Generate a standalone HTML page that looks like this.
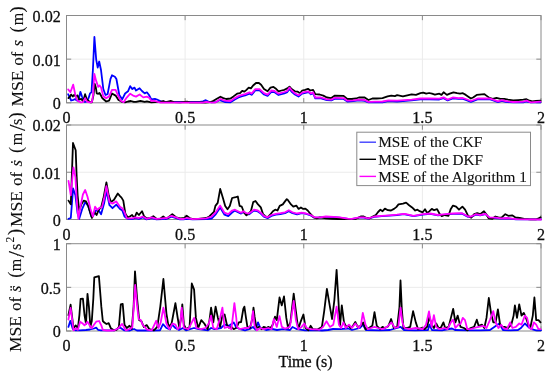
<!DOCTYPE html>
<html><head><meta charset="utf-8"><style>html,body{margin:0;padding:0;background:#fff;width:550px;height:376px;overflow:hidden}svg{display:block}</style></head><body><div id="w">
<svg width="550" height="376" viewBox="0 0 550 376" font-family="Liberation Serif, serif" font-size="17.6" fill="#0d0d0d" stroke="#0d0d0d" stroke-width="0.3">
<rect width="550" height="376" fill="#fff" stroke="none"/>
<line x1="185.12" y1="15.5" x2="185.12" y2="102.8" stroke="#ebebeb" stroke-width="1"/>
<line x1="303.75" y1="15.5" x2="303.75" y2="102.8" stroke="#ebebeb" stroke-width="1"/>
<line x1="422.38" y1="15.5" x2="422.38" y2="102.8" stroke="#ebebeb" stroke-width="1"/>
<line x1="66.5" y1="59.15" x2="541.0" y2="59.15" stroke="#ebebeb" stroke-width="1"/>
<line x1="185.12" y1="125.0" x2="185.12" y2="219.5" stroke="#ebebeb" stroke-width="1"/>
<line x1="303.75" y1="125.0" x2="303.75" y2="219.5" stroke="#ebebeb" stroke-width="1"/>
<line x1="422.38" y1="125.0" x2="422.38" y2="219.5" stroke="#ebebeb" stroke-width="1"/>
<line x1="66.5" y1="172.25" x2="541.0" y2="172.25" stroke="#ebebeb" stroke-width="1"/>
<line x1="185.12" y1="243.7" x2="185.12" y2="331.0" stroke="#ebebeb" stroke-width="1"/>
<line x1="303.75" y1="243.7" x2="303.75" y2="331.0" stroke="#ebebeb" stroke-width="1"/>
<line x1="422.38" y1="243.7" x2="422.38" y2="331.0" stroke="#ebebeb" stroke-width="1"/>
<line x1="66.5" y1="287.35" x2="541.0" y2="287.35" stroke="#ebebeb" stroke-width="1"/>
<rect x="66.5" y="15.5" width="474.50" height="87.30" fill="none" stroke="#8a8a8a" stroke-width="1"/>
<line x1="66.50" y1="102.8" x2="66.50" y2="98.1" stroke="#8a8a8a" stroke-width="1"/>
<line x1="66.50" y1="15.5" x2="66.50" y2="20.2" stroke="#8a8a8a" stroke-width="1"/>
<line x1="185.12" y1="102.8" x2="185.12" y2="98.1" stroke="#8a8a8a" stroke-width="1"/>
<line x1="185.12" y1="15.5" x2="185.12" y2="20.2" stroke="#8a8a8a" stroke-width="1"/>
<line x1="303.75" y1="102.8" x2="303.75" y2="98.1" stroke="#8a8a8a" stroke-width="1"/>
<line x1="303.75" y1="15.5" x2="303.75" y2="20.2" stroke="#8a8a8a" stroke-width="1"/>
<line x1="422.38" y1="102.8" x2="422.38" y2="98.1" stroke="#8a8a8a" stroke-width="1"/>
<line x1="422.38" y1="15.5" x2="422.38" y2="20.2" stroke="#8a8a8a" stroke-width="1"/>
<line x1="541.00" y1="102.8" x2="541.00" y2="98.1" stroke="#8a8a8a" stroke-width="1"/>
<line x1="541.00" y1="15.5" x2="541.00" y2="20.2" stroke="#8a8a8a" stroke-width="1"/>
<line x1="66.5" y1="15.50" x2="71.2" y2="15.50" stroke="#8a8a8a" stroke-width="1"/>
<line x1="541.0" y1="15.50" x2="536.3" y2="15.50" stroke="#8a8a8a" stroke-width="1"/>
<line x1="66.5" y1="59.15" x2="71.2" y2="59.15" stroke="#8a8a8a" stroke-width="1"/>
<line x1="541.0" y1="59.15" x2="536.3" y2="59.15" stroke="#8a8a8a" stroke-width="1"/>
<line x1="66.5" y1="102.80" x2="71.2" y2="102.80" stroke="#8a8a8a" stroke-width="1"/>
<line x1="541.0" y1="102.80" x2="536.3" y2="102.80" stroke="#8a8a8a" stroke-width="1"/>
<text transform="translate(66.50,122.80) scale(0.915,1)" text-anchor="middle">0</text>
<text transform="translate(185.12,122.80) scale(0.915,1)" text-anchor="middle">0.5</text>
<text transform="translate(303.75,122.80) scale(0.915,1)" text-anchor="middle">1</text>
<text transform="translate(422.38,122.80) scale(0.915,1)" text-anchor="middle">1.5</text>
<text transform="translate(541.00,122.80) scale(0.915,1)" text-anchor="middle">2</text>
<text transform="translate(60.8,109.20) scale(0.915,1)" text-anchor="end">0</text>
<text transform="translate(60.8,65.55) scale(0.915,1)" text-anchor="end">0.01</text>
<text transform="translate(60.8,21.90) scale(0.915,1)" text-anchor="end">0.02</text>
<rect x="66.5" y="125.0" width="474.50" height="94.50" fill="none" stroke="#8a8a8a" stroke-width="1"/>
<line x1="66.50" y1="219.5" x2="66.50" y2="214.8" stroke="#8a8a8a" stroke-width="1"/>
<line x1="66.50" y1="125.0" x2="66.50" y2="129.7" stroke="#8a8a8a" stroke-width="1"/>
<line x1="185.12" y1="219.5" x2="185.12" y2="214.8" stroke="#8a8a8a" stroke-width="1"/>
<line x1="185.12" y1="125.0" x2="185.12" y2="129.7" stroke="#8a8a8a" stroke-width="1"/>
<line x1="303.75" y1="219.5" x2="303.75" y2="214.8" stroke="#8a8a8a" stroke-width="1"/>
<line x1="303.75" y1="125.0" x2="303.75" y2="129.7" stroke="#8a8a8a" stroke-width="1"/>
<line x1="422.38" y1="219.5" x2="422.38" y2="214.8" stroke="#8a8a8a" stroke-width="1"/>
<line x1="422.38" y1="125.0" x2="422.38" y2="129.7" stroke="#8a8a8a" stroke-width="1"/>
<line x1="541.00" y1="219.5" x2="541.00" y2="214.8" stroke="#8a8a8a" stroke-width="1"/>
<line x1="541.00" y1="125.0" x2="541.00" y2="129.7" stroke="#8a8a8a" stroke-width="1"/>
<line x1="66.5" y1="125.00" x2="71.2" y2="125.00" stroke="#8a8a8a" stroke-width="1"/>
<line x1="541.0" y1="125.00" x2="536.3" y2="125.00" stroke="#8a8a8a" stroke-width="1"/>
<line x1="66.5" y1="172.25" x2="71.2" y2="172.25" stroke="#8a8a8a" stroke-width="1"/>
<line x1="541.0" y1="172.25" x2="536.3" y2="172.25" stroke="#8a8a8a" stroke-width="1"/>
<line x1="66.5" y1="219.50" x2="71.2" y2="219.50" stroke="#8a8a8a" stroke-width="1"/>
<line x1="541.0" y1="219.50" x2="536.3" y2="219.50" stroke="#8a8a8a" stroke-width="1"/>
<text transform="translate(66.50,239.50) scale(0.915,1)" text-anchor="middle">0</text>
<text transform="translate(185.12,239.50) scale(0.915,1)" text-anchor="middle">0.5</text>
<text transform="translate(303.75,239.50) scale(0.915,1)" text-anchor="middle">1</text>
<text transform="translate(422.38,239.50) scale(0.915,1)" text-anchor="middle">1.5</text>
<text transform="translate(541.00,239.50) scale(0.915,1)" text-anchor="middle">2</text>
<text transform="translate(60.8,225.90) scale(0.915,1)" text-anchor="end">0</text>
<text transform="translate(60.8,178.65) scale(0.915,1)" text-anchor="end">0.01</text>
<text transform="translate(60.8,131.40) scale(0.915,1)" text-anchor="end">0.02</text>
<rect x="66.5" y="243.7" width="474.50" height="87.30" fill="none" stroke="#8a8a8a" stroke-width="1"/>
<line x1="66.50" y1="331.0" x2="66.50" y2="326.3" stroke="#8a8a8a" stroke-width="1"/>
<line x1="66.50" y1="243.7" x2="66.50" y2="248.39999999999998" stroke="#8a8a8a" stroke-width="1"/>
<line x1="185.12" y1="331.0" x2="185.12" y2="326.3" stroke="#8a8a8a" stroke-width="1"/>
<line x1="185.12" y1="243.7" x2="185.12" y2="248.39999999999998" stroke="#8a8a8a" stroke-width="1"/>
<line x1="303.75" y1="331.0" x2="303.75" y2="326.3" stroke="#8a8a8a" stroke-width="1"/>
<line x1="303.75" y1="243.7" x2="303.75" y2="248.39999999999998" stroke="#8a8a8a" stroke-width="1"/>
<line x1="422.38" y1="331.0" x2="422.38" y2="326.3" stroke="#8a8a8a" stroke-width="1"/>
<line x1="422.38" y1="243.7" x2="422.38" y2="248.39999999999998" stroke="#8a8a8a" stroke-width="1"/>
<line x1="541.00" y1="331.0" x2="541.00" y2="326.3" stroke="#8a8a8a" stroke-width="1"/>
<line x1="541.00" y1="243.7" x2="541.00" y2="248.39999999999998" stroke="#8a8a8a" stroke-width="1"/>
<line x1="66.5" y1="243.70" x2="71.2" y2="243.70" stroke="#8a8a8a" stroke-width="1"/>
<line x1="541.0" y1="243.70" x2="536.3" y2="243.70" stroke="#8a8a8a" stroke-width="1"/>
<line x1="66.5" y1="287.35" x2="71.2" y2="287.35" stroke="#8a8a8a" stroke-width="1"/>
<line x1="541.0" y1="287.35" x2="536.3" y2="287.35" stroke="#8a8a8a" stroke-width="1"/>
<line x1="66.5" y1="331.00" x2="71.2" y2="331.00" stroke="#8a8a8a" stroke-width="1"/>
<line x1="541.0" y1="331.00" x2="536.3" y2="331.00" stroke="#8a8a8a" stroke-width="1"/>
<text transform="translate(66.50,351.00) scale(0.915,1)" text-anchor="middle">0</text>
<text transform="translate(185.12,351.00) scale(0.915,1)" text-anchor="middle">0.5</text>
<text transform="translate(303.75,351.00) scale(0.915,1)" text-anchor="middle">1</text>
<text transform="translate(422.38,351.00) scale(0.915,1)" text-anchor="middle">1.5</text>
<text transform="translate(541.00,351.00) scale(0.915,1)" text-anchor="middle">2</text>
<text transform="translate(60.8,337.40) scale(0.915,1)" text-anchor="end">0</text>
<text transform="translate(60.8,293.75) scale(0.915,1)" text-anchor="end">0.5</text>
<text transform="translate(60.8,250.10) scale(0.915,1)" text-anchor="end">1</text>
<polyline points="68.1,94.2 69.5,97.0 71.2,100.5 73.5,99.8 75.2,99.0 76.8,100.5 78.4,101.0 80.4,91.8 82.0,96.5 83.6,100.5 85.1,102.0 87.1,101.3 88.7,97.7 90.0,93.4 91.5,92.2 92.9,70.0 94.4,37.0 96.2,59.7 97.7,67.5 99.2,61.5 101.0,70.0 103.3,89.0 105.5,95.0 107.6,94.2 110.5,78.9 112.0,75.3 114.9,76.7 116.4,79.0 119.3,95.0 122.2,99.3 125.1,93.5 128.0,91.3 130.2,86.2 132.4,89.1 134.5,87.6 136.0,90.5 139.6,88.3 142.0,91.0 144.7,93.4 146.9,92.3 149.0,95.0 151.3,99.5 154.9,98.8 157.0,99.5 160.7,101.4 165.0,101.9 200.0,101.9 203.0,101.3 205.8,100.2 208.4,101.5 211.3,102.3 215.6,102.2 220.0,100.0 220.4,100.3 224.7,102.0 230.5,102.3 234.9,99.4 238.5,97.4 242.2,96.2 245.1,95.5 249.5,93.6 251.6,94.8 255.3,90.4 259.6,90.4 264.0,94.5 267.6,95.9 271.3,91.8 274.2,92.1 278.5,95.0 284.4,93.3 287.3,92.1 289.5,88.9 292.0,92.1 294.9,94.5 298.5,96.5 302.2,93.5 306.5,92.5 308.7,92.1 310.9,94.3 313.1,93.1 315.3,98.3 321.1,98.3 326.9,100.1 331.3,100.4 334.9,98.6 343.6,98.9 347.3,101.5 353.1,101.2 358.9,100.4 364.7,100.8 368.4,102.3 375.0,102.3 382.5,102.3 388.4,101.2 397.1,101.5 411.6,100.4 420.4,99.3 429.1,99.3 439.3,99.5 443.6,98.2 447.6,100.4 452.7,98.3 458.5,98.9 462.2,98.6 465.8,99.8 470.9,101.8 477.5,99.3 486.2,99.3 489.5,99.2 494.6,100.9 498.0,102.2 501.8,100.9 505.6,101.8 508.0,102.2 513.1,102.3 523.3,102.3 526.5,101.5 530.9,102.3 540.5,102.3" fill="none" stroke="#0000ff" stroke-width="1.8" stroke-linejoin="round" stroke-linecap="round"/>
<polyline points="68.4,98.1 70.0,96.5 71.2,94.6 72.8,96.5 74.4,94.6 75.6,96.5 77.6,95.4 78.8,99.0 80.0,99.3 81.2,98.9 83.2,101.3 85.1,94.2 86.7,99.0 87.9,100.5 90.3,102.3 91.9,102.3 93.5,95.0 94.7,83.8 95.9,87.8 96.7,93.4 98.3,93.8 99.5,93.0 100.7,95.0 102.3,98.1 103.3,99.0 106.2,101.5 109.1,100.7 112.0,93.5 115.6,95.6 118.5,100.0 122.2,101.9 125.1,102.3 128.0,101.5 130.9,101.0 133.8,101.8 136.0,101.9 140.4,100.9 144.7,101.8 146.9,101.3 151.3,102.3 155.0,102.2 160.0,101.8 163.3,101.0 166.0,102.2 171.0,101.0 174.0,102.2 180.0,102.4 187.0,101.6 190.0,102.4 200.0,102.4 205.0,102.5 208.0,102.3 211.3,101.8 213.5,100.8 216.0,99.3 220.4,96.7 223.3,98.1 226.2,99.0 230.5,98.5 233.5,96.4 237.1,93.7 240.0,93.2 242.2,90.8 244.4,91.7 246.5,89.8 248.7,87.6 250.9,88.4 253.1,85.5 256.0,83.0 258.9,83.0 261.1,84.7 264.0,89.1 267.6,91.3 270.5,87.6 273.5,86.9 275.6,88.4 278.5,91.3 281.5,90.5 284.4,89.8 287.3,88.4 289.5,86.6 291.6,89.1 294.9,91.3 297.8,91.7 300.0,93.2 302.2,90.5 305.1,89.8 308.0,88.8 310.2,90.5 313.1,89.8 315.3,94.2 319.6,94.5 323.3,95.6 326.9,97.5 331.3,98.1 334.9,95.6 343.6,95.9 347.3,99.0 351.6,99.0 356.0,98.5 358.9,97.5 364.7,97.5 368.4,100.0 372.4,98.5 376.7,98.5 382.5,98.1 387.6,96.4 391.3,95.6 394.9,96.1 397.1,95.2 402.9,96.4 407.3,95.3 411.6,94.3 416.0,94.9 420.4,93.2 423.3,92.7 426.2,93.7 429.1,93.0 432.0,93.7 434.9,94.6 439.3,93.7 441.5,94.9 443.6,92.3 446.9,94.9 449.8,93.7 453.5,92.3 457.1,93.2 460.0,93.7 462.9,93.2 465.8,94.9 470.9,98.5 473.1,97.5 476.7,94.9 481.8,94.3 484.5,94.2 486.4,95.6 489.5,97.9 492.7,98.8 496.5,97.9 500.4,98.8 504.2,98.8 508.0,99.7 513.1,100.5 518.2,100.1 523.3,99.7 526.5,99.2 529.6,100.7 532.2,101.4 536.0,101.0 540.5,100.7" fill="none" stroke="#000" stroke-width="1.8" stroke-linejoin="round" stroke-linecap="round"/>
<polyline points="68.1,89.4 70.4,92.2 73.2,84.6 75.2,94.2 76.8,99.7 78.5,101.3 80.8,102.4 83.0,102.2 85.1,98.1 87.1,101.7 89.5,102.3 91.9,102.1 93.1,95.0 94.3,73.8 96.0,80.4 98.2,86.9 99.6,85.5 101.1,87.6 103.3,96.4 106.2,98.1 109.1,96.4 112.0,89.8 115.6,89.8 117.8,95.0 120.7,100.7 123.6,102.2 126.5,97.8 130.2,93.7 133.1,95.6 136.0,96.6 139.6,94.5 143.3,97.4 146.9,96.6 149.5,98.0 151.3,101.0 154.0,100.6 157.8,101.8 160.7,102.6 203.0,102.6 206.5,101.8 209.5,102.3 215.3,102.6 220.4,99.0 224.7,100.7 230.5,101.0 234.9,98.1 238.5,96.1 242.2,94.9 245.1,94.2 249.5,92.3 251.6,93.5 255.3,89.1 259.6,89.1 264.0,93.2 267.6,94.6 271.3,90.5 274.2,90.8 278.5,93.7 284.4,92.0 287.3,90.8 289.5,87.6 292.0,90.8 294.9,93.2 298.5,95.2 302.2,92.7 306.5,91.7 308.7,91.3 310.9,93.5 313.1,92.3 315.3,97.5 321.1,97.5 326.9,99.3 331.3,99.6 334.9,97.8 343.6,98.1 347.3,100.7 353.1,100.4 358.9,99.6 364.7,100.0 368.4,101.9 375.0,101.7 382.5,101.5 388.4,100.4 397.1,100.7 411.6,99.6 420.4,98.5 429.1,98.5 439.3,98.7 443.6,97.4 447.6,99.6 452.7,97.5 458.5,98.1 462.2,97.8 465.8,99.0 470.9,101.0 477.5,98.5 486.2,98.5 489.5,98.4 494.6,100.1 498.0,101.4 501.8,100.1 505.6,101.0 508.0,101.4 513.1,102.0 523.3,101.7 526.5,100.7 530.9,102.3 540.5,101.7" fill="none" stroke="#ff00ff" stroke-width="1.8" stroke-linejoin="round" stroke-linecap="round"/>
<polyline points="68.5,218.8 70.8,218.0 73.1,188.5 75.4,195.3 77.6,213.5 79.2,218.8 82.2,208.9 85.2,202.1 88.2,205.9 91.3,216.5 93.5,215.0 95.8,210.5 98.8,210.5 101.1,214.2 104.2,202.9 106.4,190.8 109.5,205.2 112.5,208.2 116.3,204.7 120.0,209.0 122.3,210.5 124.5,216.5 127.6,218.8 132.1,219.1 135.2,218.1 138.9,218.8 142.7,217.3 146.5,219.4 151.8,218.1 156.4,219.4 162.4,219.1 167.0,218.8 171.5,216.6 176.0,218.1 180.0,219.4 183.5,219.4 186.6,218.8 192.7,219.4 206.3,219.1 211.6,218.5 215.4,214.7 220.2,207.6 224.5,214.7 228.3,216.2 232.1,212.5 235.0,210.6 238.0,212.1 241.1,213.6 243.4,212.1 246.4,214.1 248.7,214.4 250.9,212.9 254.0,210.6 257.8,211.4 260.8,213.6 263.8,216.7 267.6,218.2 271.4,215.9 275.9,214.7 280.5,214.1 285.0,213.2 288.8,211.1 292.5,213.2 297.1,214.4 301.6,213.1 306.2,213.9 310.7,215.4 314.5,217.7 319.8,217.7 325.9,216.9 333.5,217.2 339.5,217.7 347.8,219.0 351.6,219.2 359.2,217.7 363.7,217.7 368.2,218.7 374.3,216.9 381.9,216.2 389.5,215.7 397.0,215.1 404.0,214.2 406.1,214.6 413.6,216.2 422.7,214.6 430.3,213.9 437.9,215.4 445.5,214.6 453.0,213.9 462.1,213.6 468.1,216.9 471.2,216.9 475.7,214.6 480.2,215.4 485.5,214.2 489.3,217.7 495.4,218.1 501.5,218.7 507.5,218.4 516.0,219.4 541.0,219.4" fill="none" stroke="#0000ff" stroke-width="1.8" stroke-linejoin="round" stroke-linecap="round"/>
<polyline points="68.5,200.6 70.8,204.4 73.0,143.0 75.7,150.2 76.6,175.0 77.6,195.3 79.2,210.5 81.4,204.4 83.7,200.6 86.0,201.4 88.2,205.9 90.5,213.5 92.0,218.0 94.3,212.0 96.6,215.0 98.8,209.7 101.1,207.4 103.4,198.3 106.4,182.4 108.7,195.3 111.0,202.1 114.0,199.8 117.8,193.5 120.0,196.1 121.5,197.6 123.3,200.6 125.3,213.5 127.6,217.3 129.8,216.5 132.1,215.0 134.4,218.0 136.7,212.7 138.9,215.0 142.0,211.2 144.2,216.5 146.5,218.3 150.3,218.0 153.3,216.2 156.4,218.8 160.2,218.8 163.2,216.5 165.5,218.3 168.5,217.3 172.3,214.2 176.0,217.3 180.5,218.3 184.3,218.0 186.6,215.8 189.6,218.0 192.7,219.0 198.7,218.8 206.3,218.0 209.3,216.5 211.6,214.2 213.9,212.0 215.4,205.9 217.7,202.9 220.2,188.9 223.0,198.3 225.2,205.9 227.5,209.2 229.8,205.9 232.1,198.0 235.8,197.1 237.8,196.5 239.6,205.9 241.8,206.7 244.1,212.7 246.4,215.3 248.7,213.5 250.9,211.2 253.2,202.1 255.5,201.0 257.8,204.1 260.8,207.4 263.1,214.2 265.3,216.2 267.6,217.3 269.9,215.0 272.9,211.2 275.2,209.7 277.5,210.5 279.7,205.9 282.8,204.4 285.0,201.4 286.8,199.1 288.0,200.2 291.0,204.4 293.3,206.7 296.3,205.6 298.6,208.9 300.9,207.4 303.2,208.9 305.4,208.6 307.7,210.5 310.7,214.2 313.8,217.3 316.8,218.3 319.8,217.3 325.9,218.3 331.9,218.8 338.0,219.0 347.8,219.0 356.1,218.8 360.7,216.5 363.7,216.5 366.7,218.0 369.8,218.3 372.8,216.5 375.8,215.0 378.1,212.0 380.4,209.7 382.6,211.2 384.9,208.6 387.9,210.2 391.0,210.5 394.0,208.9 396.3,207.1 398.5,204.4 401.6,203.8 403.0,203.6 406.1,202.6 409.1,205.2 412.1,207.4 415.2,210.5 417.4,209.7 419.7,211.2 422.7,212.3 425.0,209.2 427.3,213.2 429.5,211.2 431.8,208.9 434.1,210.2 437.1,209.2 439.4,213.5 441.7,216.2 444.7,215.0 448.5,215.8 450.8,208.9 453.0,205.6 456.1,206.7 459.0,209.7 462.4,206.7 465.1,209.7 468.1,215.8 471.2,217.7 474.2,214.2 477.2,213.2 480.2,214.2 484.0,211.2 486.3,214.2 488.6,218.3 492.4,218.8 495.4,216.5 498.4,217.3 501.5,217.7 505.3,214.2 508.3,215.8 512.1,215.3 515.2,217.3 519.7,218.0 524.2,218.8 530.3,219.3 536.4,219.3 538.6,218.3 540.6,217.3" fill="none" stroke="#000" stroke-width="1.8" stroke-linejoin="round" stroke-linecap="round"/>
<polyline points="68.5,180.9 70.8,195.3 73.4,167.3 75.4,177.1 76.9,202.9 78.4,218.8 80.7,205.2 82.9,194.5 85.2,190.0 87.5,196.8 90.5,208.9 92.8,216.5 95.1,206.7 97.3,209.7 99.6,207.7 101.9,207.4 104.2,198.3 106.4,186.2 109.5,202.1 112.5,203.6 116.3,201.4 120.0,206.7 122.3,208.2 124.5,212.0 126.8,218.3 132.1,218.3 135.2,217.3 138.9,218.0 142.7,216.5 146.5,218.8 151.8,217.3 156.4,218.8 162.4,218.3 167.0,218.0 171.5,215.8 176.0,217.3 180.0,218.8 183.5,219.0 186.6,218.0 192.7,219.2 206.3,218.3 211.6,216.5 215.4,212.7 220.2,205.6 224.5,212.7 228.3,214.2 232.1,210.5 235.0,209.7 238.0,211.2 241.1,212.7 243.4,211.2 246.4,213.2 248.7,213.5 250.9,212.0 254.0,209.7 257.8,210.5 260.8,212.7 263.8,215.8 267.6,217.3 271.4,215.0 275.9,213.8 280.5,213.2 285.0,212.3 288.8,210.2 292.5,212.3 297.1,213.5 301.6,212.7 306.2,213.5 310.7,215.0 314.5,217.3 319.8,217.3 325.9,216.5 333.5,216.8 339.5,217.3 347.8,218.6 351.6,218.8 359.2,217.3 363.7,217.3 368.2,218.3 374.3,216.5 381.9,215.8 389.5,215.3 397.0,214.7 404.0,213.8 406.1,214.2 413.6,215.8 422.7,214.2 430.3,213.5 437.9,215.0 445.5,214.2 453.0,213.5 462.1,213.2 468.1,216.5 471.2,216.5 475.7,214.2 480.2,215.0 485.5,213.8 489.3,217.3 495.4,217.7 501.5,218.3 507.5,218.0 516.0,219.2 541.0,219.5" fill="none" stroke="#ff00ff" stroke-width="1.8" stroke-linejoin="round" stroke-linecap="round"/>
<polyline points="68.4,326.9 70.3,320.8 72.8,329.0 75.0,330.3 80.0,330.3 86.0,330.0 90.0,329.5 94.0,328.5 96.2,327.6 98.0,329.8 101.0,330.3 108.0,330.3 114.0,330.3 116.0,329.5 120.0,327.5 124.0,330.3 130.0,330.5 134.0,329.0 137.0,330.5 140.0,330.3 150.0,330.5 160.0,330.3 163.0,324.2 166.4,328.0 170.0,329.5 172.0,324.7 175.4,328.0 179.0,330.0 183.0,328.0 186.0,330.3 194.0,328.0 198.7,329.2 208.0,330.3 211.1,328.0 214.5,329.2 221.0,328.0 224.6,324.7 229.0,325.8 233.7,322.4 236.0,327.0 240.0,329.2 245.0,330.3 250.0,329.0 253.0,327.0 255.5,329.5 258.0,322.4 260.3,328.0 266.0,330.0 272.0,329.0 277.0,330.0 283.0,329.2 290.0,330.0 292.5,327.0 297.0,329.2 305.0,330.3 315.0,330.0 322.0,330.5 328.0,330.0 333.0,329.0 340.0,329.2 348.0,328.5 352.0,330.0 360.0,328.0 362.8,324.7 366.0,330.0 380.0,330.3 390.0,330.0 400.6,326.9 404.0,330.0 415.0,330.3 428.0,330.0 429.4,324.7 432.0,330.0 442.0,330.3 452.0,328.5 455.0,330.0 470.0,330.3 480.0,330.3 490.0,330.0 499.3,323.5 503.0,330.0 510.0,330.3 518.0,330.0 521.0,328.0 524.9,323.5 528.3,326.9 531.7,329.2 536.0,330.3 541.0,330.3" fill="none" stroke="#0000ff" stroke-width="1.8" stroke-linejoin="round" stroke-linecap="round"/>
<polyline points="68.4,315.1 70.6,304.6 72.0,316.0 73.5,328.3 75.7,325.4 77.9,328.3 79.4,315.1 80.6,298.8 82.9,298.6 84.5,315.0 86.0,323.9 87.5,293.8 88.9,306.4 90.4,326.9 91.8,321.0 93.3,299.0 94.3,277.4 98.9,276.1 100.5,296.0 101.3,306.4 102.8,321.0 104.3,322.5 106.5,324.0 108.7,323.2 110.9,328.3 113.8,330.3 116.7,329.8 118.9,326.9 120.8,304.4 122.7,303.8 124.5,324.7 126.8,328.0 129.5,325.8 131.8,328.7 133.6,306.6 135.0,271.3 137.0,297.5 139.2,320.1 141.5,321.3 143.8,327.0 146.7,325.1 149.4,329.2 153.9,330.3 157.3,326.9 160.3,306.6 163.4,279.0 166.4,313.3 168.6,326.9 171.6,323.5 175.4,303.2 177.7,318.0 179.4,328.0 181.0,318.0 182.3,304.3 183.9,324.7 186.2,329.2 189.6,326.9 191.8,283.5 194.1,289.6 195.9,317.9 198.2,328.0 201.3,320.1 204.3,323.5 207.7,329.2 209.5,320.1 211.1,307.7 213.3,322.4 215.6,306.6 217.9,317.9 220.1,326.9 222.4,315.6 224.6,314.5 226.9,324.7 229.2,328.0 231.4,326.9 233.7,329.2 236.5,327.8 238.8,322.4 241.1,322.0 243.3,308.8 244.4,306.6 246.0,317.9 247.4,326.9 250.1,328.0 252.4,317.9 253.5,307.7 254.6,316.7 256.4,328.0 259.1,326.9 261.4,329.2 263.7,326.9 267.1,328.0 268.2,326.9 270.5,328.0 272.7,324.7 275.0,316.7 276.8,320.1 279.5,297.5 281.8,305.4 284.0,296.4 286.3,317.9 288.1,328.0 290.4,322.4 293.7,293.7 295.9,311.1 298.2,329.2 300.4,322.4 303.4,314.5 305.6,328.0 308.4,330.3 310.6,325.8 312.9,329.2 317.4,329.6 321.9,326.9 324.2,311.1 326.9,288.9 329.9,306.6 332.1,319.0 334.4,299.8 336.6,269.9 338.9,308.8 340.0,326.0 341.8,305.4 344.0,322.4 346.3,326.9 348.5,325.8 350.8,328.0 353.0,325.8 355.3,322.0 357.6,326.9 361.0,325.8 363.2,322.4 365.5,329.2 368.9,328.0 372.3,325.8 374.5,312.2 376.8,325.8 380.2,329.2 382.5,326.9 384.7,328.0 388.1,326.5 391.1,319.0 393.8,328.0 397.2,326.9 399.4,307.7 400.5,280.5 401.8,308.8 403.4,328.0 406.8,328.0 410.2,326.9 413.1,311.1 415.8,322.4 418.1,329.2 421.5,328.0 424.4,329.2 427.1,326.9 429.4,316.7 431.7,324.7 433.9,328.0 436.2,323.5 438.5,328.0 440.7,328.0 443.4,322.4 445.2,328.0 448.6,326.9 450.9,317.9 453.2,308.8 455.4,322.4 457.7,315.6 460.5,326.9 463.9,328.0 467.3,330.3 470.7,328.0 474.1,326.9 476.8,319.7 478.6,325.8 482.0,324.7 484.3,328.0 486.5,317.9 488.8,298.0 491.1,313.3 493.3,322.4 495.6,322.4 497.9,309.3 500.1,324.7 502.4,326.9 504.5,326.9 507.9,328.0 511.3,324.7 513.6,315.6 514.9,305.4 517.0,317.9 519.2,304.3 521.5,315.6 523.8,312.9 526.0,317.9 528.3,324.7 530.5,326.9 532.8,315.6 534.4,297.5 536.2,320.1 538.5,320.1 540.5,322.4" fill="none" stroke="#000" stroke-width="1.8" stroke-linejoin="round" stroke-linecap="round"/>
<polyline points="68.4,319.5 70.6,307.8 72.0,318.0 73.5,330.3 75.7,328.3 77.9,329.8 80.1,321.7 82.3,323.2 84.5,325.4 87.4,321.7 89.6,325.4 91.8,328.3 94.0,324.7 96.2,321.7 99.1,321.0 101.3,325.4 102.8,329.8 106.5,330.5 110.9,330.5 114.5,330.3 118.2,328.3 122.1,323.9 125.8,330.3 129.5,329.2 132.4,327.0 135.2,285.0 137.0,305.0 138.6,319.0 140.8,320.1 142.6,324.7 147.1,329.6 151.7,330.3 156.2,320.8 158.5,328.0 160.7,322.4 163.4,307.7 166.4,323.5 169.3,329.2 172.5,323.5 175.4,324.7 177.7,329.2 180.0,327.0 181.7,307.7 183.9,328.0 188.4,329.2 191.8,322.4 194.1,317.9 196.4,328.0 200.9,329.2 205.4,328.0 208.8,323.5 211.1,315.6 213.3,328.0 216.7,329.2 220.1,317.9 222.4,307.7 224.6,328.0 228.0,326.9 231.4,329.2 234.4,303.2 236.3,318.0 237.0,326.9 239.9,329.2 244.4,328.0 248.3,328.0 251.2,324.7 253.0,311.1 254.6,325.8 256.9,330.3 260.3,328.0 263.7,329.2 268.2,328.0 271.6,329.2 273.9,319.0 276.8,326.9 279.5,316.1 281.8,326.9 285.2,328.7 289.7,326.9 290.7,322.4 293.7,300.9 295.9,320.1 298.2,329.2 301.6,326.9 304.3,323.5 306.6,328.0 310.6,329.2 319.7,329.6 323.1,326.9 326.5,321.3 329.9,326.9 333.3,324.7 336.6,306.6 338.9,324.7 341.2,328.0 343.4,322.4 345.7,328.0 349.0,324.7 351.9,328.0 355.3,323.5 358.7,328.0 361.0,324.7 362.8,312.9 365.5,324.7 367.8,329.2 371.1,328.0 374.5,326.9 377.9,328.0 382.5,329.2 387.0,326.9 391.5,322.4 394.9,328.0 398.3,326.9 400.6,307.7 402.4,322.4 404.5,328.0 409.0,329.2 415.8,328.0 422.6,329.2 426.0,324.7 429.0,311.5 431.7,326.9 433.9,315.2 436.2,326.9 439.6,329.2 444.1,328.0 447.5,329.2 450.9,322.4 453.2,319.7 455.4,328.0 458.4,324.7 460.5,324.0 462.8,317.9 465.0,320.1 467.3,329.2 470.7,329.2 474.1,328.0 478.6,326.9 483.1,325.8 486.5,328.0 489.9,320.1 493.3,311.1 495.6,322.4 498.5,328.0 501.2,324.7 503.4,328.0 506.8,329.2 510.2,322.4 512.4,328.0 515.8,326.9 519.2,323.5 521.5,324.7 524.9,315.6 527.1,317.9 529.4,328.0 531.7,329.2 533.9,322.4 536.2,324.7 538.5,329.2 540.5,329.2" fill="none" stroke="#ff00ff" stroke-width="1.8" stroke-linejoin="round" stroke-linecap="round"/>
<rect x="356.8" y="132.2" width="173.7" height="53.4" fill="#fff" stroke="#8a8a8a" stroke-width="1"/>
<line x1="359.5" y1="142.2" x2="376" y2="142.2" stroke="#4040ff" stroke-width="1.4"/>
<text transform="translate(378.2,147.4) scale(1.02,1)" font-size="15" stroke-width="0.1">MSE of the CKF</text>
<line x1="359.5" y1="159.3" x2="376" y2="159.3" stroke="#000" stroke-width="1.4"/>
<text transform="translate(378.2,164.5) scale(1.02,1)" font-size="15" stroke-width="0.1">MSE of the DKF</text>
<line x1="359.5" y1="176.4" x2="376" y2="176.4" stroke="#ff00ff" stroke-width="1.4"/>
<text transform="translate(378.2,181.6) scale(1.02,1)" font-size="15" stroke-width="0.1">MSE of the Algorithm 1</text>
<text x="305.5" y="367.2" text-anchor="middle" font-size="16">Time (s)</text>
<text transform="translate(22.5,106.50) rotate(-90) scale(1.03,1)" font-size="17" stroke-width="0.1">MSE</text>
<text transform="translate(22.5,65.60) rotate(-90)" font-size="16.5" stroke-width="0.1">of</text>
<text transform="translate(22.5,46.40) rotate(-90)" font-size="16.5" stroke-width="0.1" font-style="italic">s</text>
<text transform="translate(21.5,227.00) rotate(-90) scale(1.03,1)" font-size="17" stroke-width="0.1">MSE</text>
<text transform="translate(21.5,185.80) rotate(-90)" font-size="16.5" stroke-width="0.1">of</text>
<text transform="translate(21.5,166.60) rotate(-90)" font-size="16.5" stroke-width="0.1" font-style="italic">s&#775;</text>
<text transform="translate(20.5,352.00) rotate(-90) scale(1.03,1)" font-size="17" stroke-width="0.1">MSE</text>
<text transform="translate(20.5,310.70) rotate(-90)" font-size="16.5" stroke-width="0.1">of</text>
<text transform="translate(20.5,291.90) rotate(-90)" font-size="16.5" stroke-width="0.1" font-style="italic">s&#776;</text>
<text transform="translate(22.50,32.40) rotate(-90)" font-size="18.5" stroke-width="0.1">(</text>
<text transform="translate(22.50,25.20) rotate(-90)" font-size="16" stroke-width="0.1">m</text>
<text transform="translate(22.50,12.40) rotate(-90)" font-size="18.5" stroke-width="0.1">)</text>
<text transform="translate(21.50,153.00) rotate(-90)" font-size="18.5" stroke-width="0.1">(</text>
<text transform="translate(21.50,145.25) rotate(-90)" font-size="16" stroke-width="0.1">m</text>
<text transform="translate(25.00,131.10) rotate(-90)" font-size="23" stroke-width="0.1">/</text>
<text transform="translate(21.50,124.90) rotate(-90)" font-size="16" stroke-width="0.1">s</text>
<text transform="translate(21.50,118.60) rotate(-90)" font-size="18.5" stroke-width="0.1">)</text>
<text transform="translate(20.50,277.80) rotate(-90)" font-size="18.5" stroke-width="0.1">(</text>
<text transform="translate(20.50,271.20) rotate(-90)" font-size="16" stroke-width="0.1">m</text>
<text transform="translate(24.00,257.50) rotate(-90)" font-size="23" stroke-width="0.1">/</text>
<text transform="translate(20.50,249.90) rotate(-90)" font-size="16" stroke-width="0.1">s</text>
<text transform="translate(14.10,242.60) rotate(-90)" font-size="11.5" stroke-width="0.1">2</text>
<text transform="translate(20.50,235.00) rotate(-90)" font-size="18.5" stroke-width="0.1">)</text>
</svg>
</div></body></html>
